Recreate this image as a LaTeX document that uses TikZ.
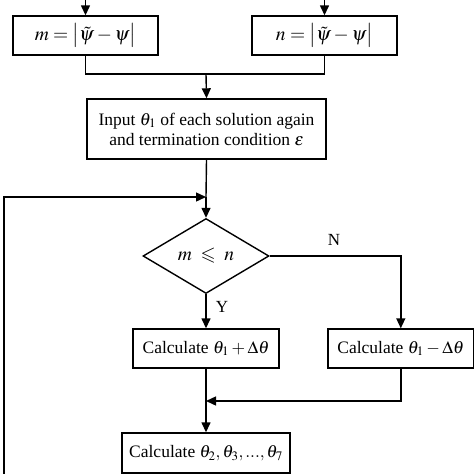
\documentclass[tikz,border=0pt]{standalone}
\usepackage{amssymb}
\usepackage{mathptmx}
\usepackage{fontspec}
\setmainfont{Liberation Serif}
\usetikzlibrary{arrows.meta,shapes.geometric}
\newcommand{\bigmath}[1]{{\fontsize{19.5}{22}\selectfont$#1$}}
\tikzset{
  box/.style={draw,line width=1.4pt,minimum height=39pt,inner sep=2pt,align=center,font=\fontsize{17.5}{21}\selectfont},
  dia/.style={draw,line width=1.4pt,diamond,aspect=1.68,inner sep=0pt,minimum width=126pt,minimum height=75pt,font=\fontsize{17.5}{21}\selectfont},
  conn/.style={line width=1.4pt},
  arr/.style={line width=1.4pt,-{Triangle[length=10pt,width=9pt]}},
  lab/.style={font=\fontsize{17}{19}\selectfont}
}
\begin{document}
\begin{tikzpicture}[x=1pt,y=-1pt]
\useasboundingbox[fill=white] (0,0) rectangle (474,474);
\node[box,minimum width=145pt] (m) at (85.5,35.5) {\bigmath{m=\bigl|\tilde{\psi}-\psi\bigr|}};
\node[box,minimum width=145pt] (n) at (324.5,35.5) {\bigmath{n=\bigl|\tilde{\psi}-\psi\bigr|}};
\node[box,minimum width=239pt,minimum height=60pt] (in) at (206.5,129) {Input $\theta_1$ of each solution again\\[-1pt]and termination condition $\varepsilon$};
\node[dia] (d) at (206,256) {\bigmath{m\;\leqslant\; n}};
\node[box,minimum width=146pt] (cp) at (206,348.5) {Calculate $\theta_1+\Delta\theta$};
\node[box,minimum width=146pt] (cm) at (400.8,348.5) {Calculate $\theta_1-\Delta\theta$};
\node[box,minimum width=168pt,minimum height=40pt] (c2) at (206,453) {Calculate $\theta_2, \theta_3, \mathrm{...}, \theta_7$};
\node[lab] (N) at (334,240) {N};
\node[lab] (Y) at (222,307) {Y};
\coordinate (tm) at (85.5,0);
\coordinate (tn) at (324.5,0);
\coordinate (j1) at (206,74);
\coordinate (lp) at (206,197);
\coordinate (lb) at (4,474);
\coordinate (lt) at (4,197);
\coordinate (j2) at (206,401);
\coordinate (bot) at (206,474);
\draw[arr] (tm) -- (m.north);
\draw[arr] (tn) -- (n.north);
\draw[conn] (m.south) |- (j1) -| (n.south);
\draw[arr] (j1) -- (in.north);
\draw[conn] (in.south) -- (lp);
\draw[arr] (lb) -- (lt) -- (lp);
\draw[arr] (lp) -- (d.north);
\draw[arr] (d.east) -| (cm.north);
\draw[arr] (d.south) -- (cp.north);
\draw[conn] (cp.south) -- (j2);
\draw[arr] (cm.south) |- (j2);
\draw[arr] (j2) -- (c2.north);
\draw[conn] (c2.south) -- (bot);
\end{tikzpicture}
\end{document}
